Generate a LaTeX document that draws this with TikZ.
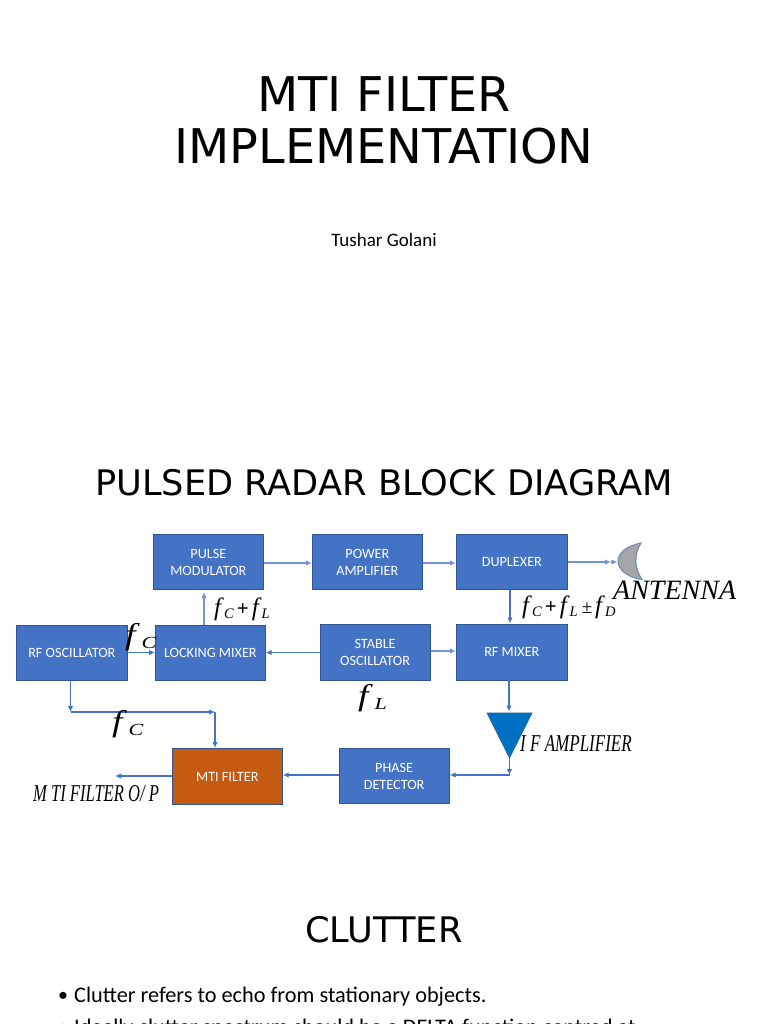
\documentclass[tikz,border=0pt]{standalone}
\usepackage{fontspec}
\setmainfont{Carlito}
\newfontfamily\titlefont{DejaVu Sans}
\newfontfamily\mathserif{Liberation Serif}[Ligatures=TeX]
\usetikzlibrary{arrows.meta}
\definecolor{boxblue}{HTML}{4472C4}
\definecolor{boxedge}{HTML}{2F5597}
\definecolor{filt}{HTML}{C55A11}
\definecolor{ampblue}{HTML}{0070C0}
\definecolor{antgray}{HTML}{A5A5A5}
\tikzset{
  x=1pt,y=-1pt,
  blockbox/.style={draw=boxedge,line width=0.7pt,fill=boxblue,text=white,font=\fontsize{14.2}{17}\selectfont,inner sep=0pt,anchor=north west},
  wire/.style={draw=boxblue,line width=1.8pt,-{Latex[length=6pt,width=5.5pt]}},
  thinwire/.style={draw=boxblue!75,line width=1.2pt,-{Latex[length=6pt,width=5.5pt]}},
  bigtitle/.style={font=\titlefont\fontsize{47.8}{52}\selectfont,align=center,inner sep=0pt},
  headtitle/.style={font=\titlefont\fontsize{35.2}{42}\selectfont,inner sep=0pt},
  lab/.style={font=\mathserif\itshape\fontsize{22}{24}\selectfont,inner sep=0pt,text=black,anchor=base west},
  bodytext/.style={anchor=base west,font=\fontsize{22.3}{26}\selectfont,inner sep=0pt},
}
\newcommand{\bl}[1]{\raisebox{-1.5pt}[\height][\depth]{\begin{tabular}{@{}c@{}}#1\end{tabular}}}
\newcommand{\fsym}[1]{{\fontsize{25}{25}\selectfont f}\raisebox{-3.5pt}{\kern3pt\fontsize{14.5}{15}\selectfont #1}}
\newcommand{\fbig}[1]{{\fontsize{30}{30}\selectfont\scalebox{1.25}[1]{f}\raisebox{-4pt}{\kern6pt\fontsize{17}{17}\selectfont\scalebox{1.3}[1]{#1}}}}
\newcommand{\opsym}[1]{{\kern3pt\fontsize{21}{21}\selectfont\upshape\bfseries #1\kern3pt}}
\begin{document}
\begin{tikzpicture}
\useasboundingbox (0,0) rectangle (768,1024);
\clip (0,0) rectangle (768,1024);
\fill[white] (0,0) rectangle (768,1024);
\node[bigtitle] (title) at (384,120) {MTI FILTER\\IMPLEMENTATION};
\node[font=\fontsize{19}{22}\selectfont,inner sep=0pt] (author) at (384,240) {Tushar Golani};
\node[headtitle] (head1) at (384,483) {PULSED RADAR BLOCK DIAGRAM};
\node[headtitle] (head2) at (384,930) {CLUTTER};

\node[blockbox,minimum width=110pt,minimum height=55pt] (pm) at (153,534) {\bl{PULSE\\MODULATOR}};
\node[blockbox,minimum width=110pt,minimum height=55pt] (pa) at (312,534) {\bl{POWER\\AMPLIFIER}};
\node[blockbox,minimum width=111pt,minimum height=55pt] (dup) at (456,534) {\bl{DUPLEXER}};
\node[blockbox,minimum width=111pt,minimum height=55.5pt] (rfo) at (16,624.5) {\bl{RF OSCILLATOR}};
\node[blockbox,minimum width=110pt,minimum height=55.5pt] (lm) at (155,624.5) {\bl{LOCKING MIXER}};
\node[blockbox,minimum width=110.5pt,minimum height=56pt] (so) at (319.5,623.5) {\bl{STABLE\\OSCILLATOR}};
\node[blockbox,minimum width=111pt,minimum height=56pt] (rfm) at (456,623.5) {\bl{RF MIXER}};
\node[blockbox,minimum width=110.5pt,minimum height=55pt] (pd) at (338.5,748) {\bl{PHASE\\DETECTOR}};
\node[blockbox,fill=filt,minimum width=110pt,minimum height=55.5pt] (mti) at (172,748) {\bl{MTI FILTER}};

% antenna
\draw[draw=boxedge!70,line width=1pt,fill=antgray] (641,543) .. controls (625,546) and (618,554) .. (618,561) .. controls (618,569) and (626,577) .. (642,579.5) .. controls (634,568) and (634,554) .. (641,543) -- cycle;
\coordinate (ant) at (617.5,562);
\coordinate (antmid) at (611,562);
% amplifier
\draw[draw=boxedge,line width=0.6pt,fill=ampblue] (487,713) -- (532,713) -- (509.5,758) -- cycle;
\coordinate (ampin) at (509,711.5);
\coordinate (ampout) at (509.5,758);
\coordinate (ampbend) at (509.5,775);
\coordinate (rfobend) at (70.5,712);
\coordinate (mtibend) at (215,712);
\coordinate (mtiout) at (115,776);
\coordinate (pmin) at (204,592);

% connectors
\draw[thinwire] (pm.east |- 0,563) -- (pa.west |- 0,563);
\draw[thinwire] (pa.east |- 0,563) -- (dup.west |- 0,563);
\draw[thinwire] (dup.east |- ant) -- (antmid);
\draw[thinwire] (antmid) -- (ant);
\draw[thinwire] (lm.north -| pmin) -- (pmin);
\draw[wire] (rfo.east |- 0,652.5) -- (lm.west |- 0,652.5);
\draw[wire] (so.west |- 0,652.5) -- (lm.east |- 0,652.5);
\draw[thinwire] (so.east |- 0,651) -- (rfm.west |- 0,651);
\draw[wire] (dup.south -| 510,0) -- (rfm.north -| 510,0);
\draw[wire] (rfm.south -| 509,0) -- (ampin);
\draw[wire] (ampout) -- (ampbend);
\draw[wire] (ampbend) -- (pd.east |- ampbend);
\draw[wire] (pd.west |- 0,775) -- (mti.east |- 0,775);
\draw[wire] (mti.west |- mtiout) -- (mtiout);
\draw[wire] (rfo.south -| rfobend) -- (rfobend);
\draw[wire] (rfobend) -- (mtibend);
\draw[wire] (mtibend) -- (mti.north -| mtibend);

% labels
\node[lab] (l1) at (214,615) {\fsym{C}\opsym{+}\fsym{L}};
\node[lab] (l2) at (125,644) {\fbig{C}};
\node[lab] (l3) at (112,731) {\fbig{C}};
\node[lab] (l4) at (358,705) {\fbig{L}};
\node[lab] (l5) at (522,613) {\fsym{C}\opsym{+}\fsym{L}{\kern4pt\fontsize{19}{19}\selectfont\upshape ±\kern3pt}\fsym{D}};
\node[lab,font=\mathserif\itshape\fontsize{28}{28}\selectfont] (ante) at (613,599) {ANTENNA};
\node[lab] (ifa) at (520,751) {\scalebox{0.74}[1.05]{\fontsize{23}{23}\selectfont I F AMPLIFIER}};
\node[lab] (mo) at (33,801) {\scalebox{0.72}[1.05]{\fontsize{23}{23}\selectfont M TI FILTER O/ P}};

% body text
\node[bodytext] (b1) at (58,1002) {\raisebox{0.5pt}{\fontsize{20}{20}\selectfont•}\kern6pt Clutter refers to echo from stationary objects.};
\node[bodytext] (b2) at (58,1034) {\raisebox{0.5pt}{\fontsize{20}{20}\selectfont•}\kern6pt Ideally clutter spectrum should be a DELTA function centred at};
\end{tikzpicture}
\end{document}
